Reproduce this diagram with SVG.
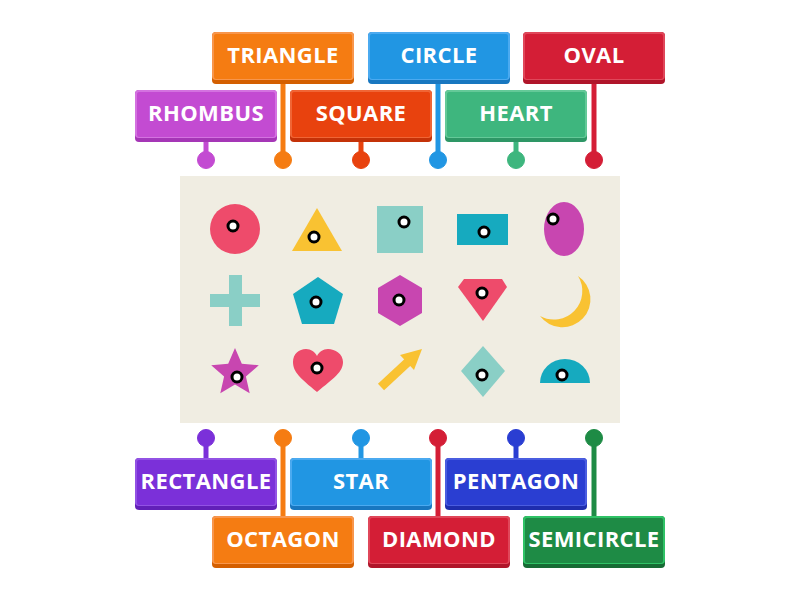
<svg xmlns="http://www.w3.org/2000/svg" width="800" height="600" viewBox="0 0 800 600">
<style>
  text{font-family:"Open Sans","Liberation Sans",sans-serif;font-weight:700;font-size:22px;letter-spacing:0.4px;fill:#fff;text-anchor:middle}
  .pin{fill:#fff;stroke:#000;stroke-width:3}
  .stem{stroke-width:5;fill:none}
  .orange .d{fill:#D45F00}.orange .l{fill:#F8964C}.orange .m{fill:#F57C12}
  .blue .d{fill:#1877C0}.blue .l{fill:#4BAAF0}.blue .m{fill:#2196E3}
  .red .d{fill:#B0152A}.red .l{fill:#E0475A}.red .m{fill:#D41E36}
  .purple .d{fill:#A536B6}.purple .l{fill:#D472E0}.purple .m{fill:#C34BD2}
  .vermil .d{fill:#C43208}.vermil .l{fill:#F06535}.vermil .m{fill:#E8420E}
  .green .d{fill:#2E9766}.green .l{fill:#64C998}.green .m{fill:#3EB67E}
  .violet .d{fill:#6220B8}.violet .l{fill:#9252E4}.violet .m{fill:#7B30D9}
  .navy .d{fill:#1E2DAE}.navy .l{fill:#4A5DE0}.navy .m{fill:#2A3ED2}
  .dgreen .d{fill:#166B34}.dgreen .l{fill:#2FC266}.dgreen .m{fill:#1E8B45}
  .pink{fill:#EE4B6B}.yellow{fill:#F9C232}.lteal{fill:#8ACFC6}.teal{fill:#16AABF}.magenta{fill:#C846B0}
</style>
<rect x="180" y="176" width="440" height="247" fill="#F0EDE2"/>
<g id="connectors">
  <g stroke="#C34BD2" fill="#C34BD2"><line class="stem" x1="206" y1="140" x2="206" y2="160"/><circle cx="206" cy="160" r="8.5"/></g>
  <g stroke="#F57C12" fill="#F57C12"><line class="stem" x1="283" y1="82" x2="283" y2="160"/><circle cx="283" cy="160" r="8.5"/></g>
  <g stroke="#E8420E" fill="#E8420E"><line class="stem" x1="361" y1="140" x2="361" y2="160"/><circle cx="361" cy="160" r="8.5"/></g>
  <g stroke="#2196E3" fill="#2196E3"><line class="stem" x1="438" y1="82" x2="438" y2="160"/><circle cx="438" cy="160" r="8.5"/></g>
  <g stroke="#3EB67E" fill="#3EB67E"><line class="stem" x1="516" y1="140" x2="516" y2="160"/><circle cx="516" cy="160" r="8.5"/></g>
  <g stroke="#D41E36" fill="#D41E36"><line class="stem" x1="594" y1="82" x2="594" y2="160"/><circle cx="594" cy="160" r="8.5"/></g>
  <g stroke="#7B30D9" fill="#7B30D9"><line class="stem" x1="206" y1="438" x2="206" y2="460"/><circle cx="206" cy="438" r="8.5"/></g>
  <g stroke="#F57C12" fill="#F57C12"><line class="stem" x1="283" y1="438" x2="283" y2="518"/><circle cx="283" cy="438" r="8.5"/></g>
  <g stroke="#2196E3" fill="#2196E3"><line class="stem" x1="361" y1="438" x2="361" y2="460"/><circle cx="361" cy="438" r="8.5"/></g>
  <g stroke="#D41E36" fill="#D41E36"><line class="stem" x1="438" y1="438" x2="438" y2="518"/><circle cx="438" cy="438" r="8.5"/></g>
  <g stroke="#2A3ED2" fill="#2A3ED2"><line class="stem" x1="516" y1="438" x2="516" y2="460"/><circle cx="516" cy="438" r="8.5"/></g>
  <g stroke="#1E8B45" fill="#1E8B45"><line class="stem" x1="594" y1="438" x2="594" y2="518"/><circle cx="594" cy="438" r="8.5"/></g>
</g>
<g id="label-triangle" class="orange"><rect class="d" x="212" y="32" width="142" height="52" rx="4"/><rect class="l" x="212" y="32" width="142" height="48" rx="4"/><rect class="m" x="214" y="34" width="138" height="45" rx="2"/><text x="283" y="63">TRIANGLE</text></g>
<g id="label-circle" class="blue"><rect class="d" x="368" y="32" width="142" height="52" rx="4"/><rect class="l" x="368" y="32" width="142" height="48" rx="4"/><rect class="m" x="370" y="34" width="138" height="45" rx="2"/><text x="439" y="63">CIRCLE</text></g>
<g id="label-oval" class="red"><rect class="d" x="523" y="32" width="142" height="52" rx="4"/><rect class="l" x="523" y="32" width="142" height="48" rx="4"/><rect class="m" x="525" y="34" width="138" height="45" rx="2"/><text x="594" y="63">OVAL</text></g>
<g id="label-rhombus" class="purple"><rect class="d" x="135" y="90" width="142" height="52" rx="4"/><rect class="l" x="135" y="90" width="142" height="48" rx="4"/><rect class="m" x="137" y="92" width="138" height="45" rx="2"/><text x="206" y="121">RHOMBUS</text></g>
<g id="label-square" class="vermil"><rect class="d" x="290" y="90" width="142" height="52" rx="4"/><rect class="l" x="290" y="90" width="142" height="48" rx="4"/><rect class="m" x="292" y="92" width="138" height="45" rx="2"/><text x="361" y="121">SQUARE</text></g>
<g id="label-heart" class="green"><rect class="d" x="445" y="90" width="142" height="52" rx="4"/><rect class="l" x="445" y="90" width="142" height="48" rx="4"/><rect class="m" x="447" y="92" width="138" height="45" rx="2"/><text x="516" y="121">HEART</text></g>
<g id="label-rectangle" class="violet"><rect class="d" x="135" y="458" width="142" height="52" rx="4"/><rect class="l" x="135" y="458" width="142" height="48" rx="4"/><rect class="m" x="137" y="460" width="138" height="45" rx="2"/><text x="206" y="489">RECTANGLE</text></g>
<g id="label-star" class="blue"><rect class="d" x="290" y="458" width="142" height="52" rx="4"/><rect class="l" x="290" y="458" width="142" height="48" rx="4"/><rect class="m" x="292" y="460" width="138" height="45" rx="2"/><text x="361" y="489">STAR</text></g>
<g id="label-pentagon" class="navy"><rect class="d" x="445" y="458" width="142" height="52" rx="4"/><rect class="l" x="445" y="458" width="142" height="48" rx="4"/><rect class="m" x="447" y="460" width="138" height="45" rx="2"/><text x="516" y="489">PENTAGON</text></g>
<g id="label-octagon" class="orange"><rect class="d" x="212" y="516" width="142" height="52" rx="4"/><rect class="l" x="212" y="516" width="142" height="48" rx="4"/><rect class="m" x="214" y="518" width="138" height="45" rx="2"/><text x="283" y="547">OCTAGON</text></g>
<g id="label-diamond" class="red"><rect class="d" x="368" y="516" width="142" height="52" rx="4"/><rect class="l" x="368" y="516" width="142" height="48" rx="4"/><rect class="m" x="370" y="518" width="138" height="45" rx="2"/><text x="439" y="547">DIAMOND</text></g>
<g id="label-semicircle" class="dgreen"><rect class="d" x="523" y="516" width="142" height="52" rx="4"/><rect class="l" x="523" y="516" width="142" height="48" rx="4"/><rect class="m" x="525" y="518" width="138" height="45" rx="2"/><text x="594" y="547">SEMICIRCLE</text></g>
<g id="shapes">
  <g id="shape-circle"><circle class="pink" cx="235" cy="229" r="25"/><circle class="pin" cx="233" cy="226" r="5"/></g>
  <g id="shape-triangle"><polygon class="yellow" points="317,208 342,251 292,251"/><circle class="pin" cx="314" cy="237" r="5"/></g>
  <g id="shape-square"><rect class="lteal" x="377" y="206" width="46" height="47"/><circle class="pin" cx="404" cy="222" r="5"/></g>
  <g id="shape-rectangle"><rect class="teal" x="457" y="214" width="51" height="31"/><circle class="pin" cx="484" cy="232" r="5"/></g>
  <g id="shape-oval"><ellipse class="magenta" cx="564" cy="229" rx="20" ry="27"/><circle class="pin" cx="553" cy="219" r="5"/></g>
  <g id="shape-cross" class="lteal"><rect x="210" y="294" width="50" height="13"/><rect x="229" y="275" width="13" height="51"/></g>
  <g id="shape-pentagon"><polygon class="teal" points="318,277 343,294 334,324 302,324 293,294"/><circle class="pin" cx="316" cy="302" r="5"/></g>
  <g id="shape-hexagon"><polygon class="magenta" points="400,275 422,288 422,313 400,326 378,313 378,288"/><circle class="pin" cx="399" cy="300" r="5"/></g>
  <g id="shape-gem"><polygon class="pink" points="464,279 502,279 507,287 483,321 458,287"/><circle class="pin" cx="482" cy="293" r="5"/></g>
  <path id="shape-crescent" class="yellow" d="M578 276 A28 28 0 1 1 540 316 A28.5 28.5 0 0 0 578 276 Z"/>
  <g id="shape-star"><polygon class="magenta" points="235,348 241.8,363.7 258.8,365.3 245.9,376.6 249.7,393.2 235,384.5 220.3,393.2 224.1,376.6 211.2,365.3 228.2,363.7"/><circle class="pin" cx="237" cy="377" r="5"/></g>
  <g id="shape-heart"><path class="pink" d="M317 392 C300 378 293 372 293 362 C293 354 299 349 306 349 C311 349 315 352 317 356 C319 352 323 349 328 349 C335 349 343 354 343 362 C343 372 334 378 317 392 Z"/><circle class="pin" cx="317" cy="368" r="5"/></g>
  <g id="shape-arrow" class="yellow"><line x1="381" y1="387" x2="409" y2="361" stroke="#F9C232" stroke-width="9"/><polygon points="422,349 400,355 414,370"/></g>
  <g id="shape-diamond"><polygon class="lteal" points="483,346 505,371 483,397 461,371"/><circle class="pin" cx="482" cy="375" r="5"/></g>
  <g id="shape-semicircle"><path class="teal" d="M540 383 A25 24 0 0 1 590 383 Z"/><circle class="pin" cx="562" cy="375" r="5"/></g>
</g>
</svg>
